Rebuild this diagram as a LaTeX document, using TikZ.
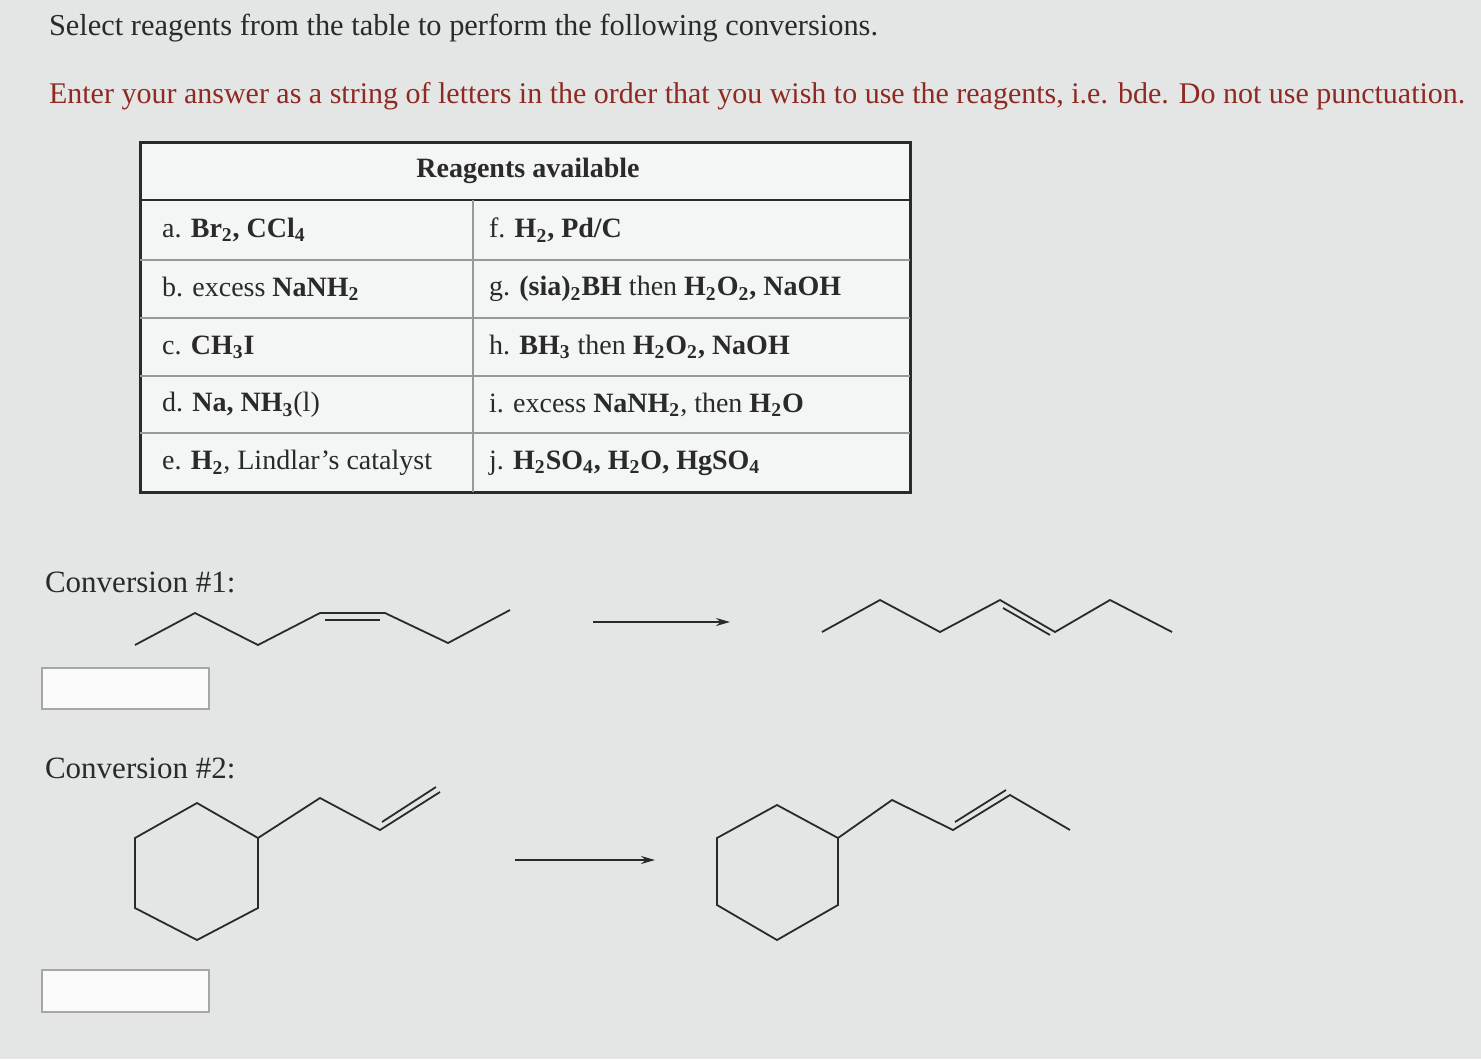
\documentclass[tikz,border=0pt]{standalone}
\usepackage{fontspec}
\setmainfont{Liberation Serif}
\definecolor{bg}{HTML}{E4E6E6}
\definecolor{redtxt}{HTML}{8E2A22}
\definecolor{ink}{HTML}{2A2A2A}
\usetikzlibrary{arrows.meta}
\begin{document}
\begin{tikzpicture}[x=0.5pt,y=-0.5pt,
  bond/.style={draw=ink,line width=0.9pt},
  cell/.style={anchor=west,font=\fontsize{14}{16}\selectfont,text=ink},
  rxn/.style={draw=ink,line width=0.9pt,-{Stealth[length=7pt,width=4pt]}},
  ansbox/.style={draw=gray!70,fill=white!80!bg,line width=0.6pt}]
\fill[bg] (0,0) rectangle (1481,1059);
\useasboundingbox (0,0) rectangle (1481,1059);
\node[anchor=west,font=\fontsize{15.2}{17}\selectfont,text=ink] (t1) at (42,28) {Select reagents from the table to perform the following conversions.};
\node[anchor=west,font=\fontsize{15}{17}\selectfont,text=redtxt] (t2) at (42,96) {Enter your answer as a string of letters in the order that you wish to use the reagents, i.e. bde. Do not use punctuation.};
% table
\fill[white!60!bg] (140,143) rectangle (910,492);
\draw[ink,line width=1.5pt] (140,143) rectangle (910,492);
\draw[ink,line width=1.2pt] (140,200) -- (910,200);
\foreach \y in {260,318,376,433} \draw[gray!80,line width=0.7pt] (140,\y) -- (910,\y);
\draw[gray!80,line width=0.7pt] (473,200) -- (473,492);
\node[font=\fontsize{14}{16}\selectfont\bfseries,text=ink] (hd) at (528,171) {Reagents available};
\node[cell] (ra) at (155,230) {a. \textbf{Br$_\mathbf{2}$, CCl$_\mathbf{4}$}};
\node[cell] (rb) at (155,289) {b. excess \textbf{NaNH$_\mathbf{2}$}};
\node[cell] (rc) at (155,347) {c. \textbf{CH$_\mathbf{3}$I}};
\node[cell] (rd) at (155,405) {d. \textbf{Na, NH$_\mathbf{3}$}(l)};
\node[cell] (re) at (155,463) {e. \textbf{H$_\mathbf{2}$}, Lindlar's catalyst};
\node[cell] (rf) at (482,230) {f. \textbf{H$_\mathbf{2}$, Pd/C}};
\node[cell] (rg) at (482,289) {g. \textbf{(sia)$_\mathbf{2}$BH} then \textbf{H$_\mathbf{2}$O$_\mathbf{2}$, NaOH}};
\node[cell] (rh) at (482,347) {h. \textbf{BH$_\mathbf{3}$} then \textbf{H$_\mathbf{2}$O$_\mathbf{2}$, NaOH}};
\node[cell] (ri) at (482,405) {i. excess \textbf{NaNH$_\mathbf{2}$}, then \textbf{H$_\mathbf{2}$O}};
\node[cell] (rj) at (482,463) {j. \textbf{H$_\mathbf{2}$SO$_\mathbf{4}$, H$_\mathbf{2}$O, HgSO$_\mathbf{4}$}};
% conversion 1
\node[anchor=west,font=\fontsize{15.5}{17}\selectfont,text=ink] (c1) at (38,582) {Conversion \#1:};
\draw[bond] (135,645) -- (195,613) -- (258,645) -- (320,613) -- (385,613) -- (448,643) -- (510,610);
\draw[bond] (325,620) -- (380,620);
\coordinate (a1s) at (593,622); \coordinate (a1e) at (730,622);
\draw[rxn] (a1s) -- (a1e);
\draw[bond] (822,632) -- (880,600) -- (940,632) -- (1000,600) -- (1055,632) -- (1110,600) -- (1172,632);
\draw[bond] (1003,608) -- (1050,635);
\draw[ansbox] (42,668) rectangle (209,709);
% conversion 2
\node[anchor=west,font=\fontsize{15.5}{17}\selectfont,text=ink] (c2) at (38,768) {Conversion \#2:};
\draw[bond] (197,803) -- (258,838) -- (258,908) -- (197,940) -- (135,908) -- (135,838) -- cycle;
\draw[bond] (258,838) -- (320,798) -- (380,830) -- (440,792);
\draw[bond] (382,822) -- (436,787);
\coordinate (a2s) at (515,860); \coordinate (a2e) at (655,860);
\draw[rxn] (a2s) -- (a2e);
\draw[bond] (777,805) -- (838,838) -- (838,905) -- (777,940) -- (717,905) -- (717,838) -- cycle;
\draw[bond] (838,838) -- (892,800) -- (953,830) -- (1010,795) -- (1070,830);
\draw[bond] (955,822) -- (1006,790);
\draw[ansbox] (42,970) rectangle (209,1012);
\end{tikzpicture}
\end{document}
